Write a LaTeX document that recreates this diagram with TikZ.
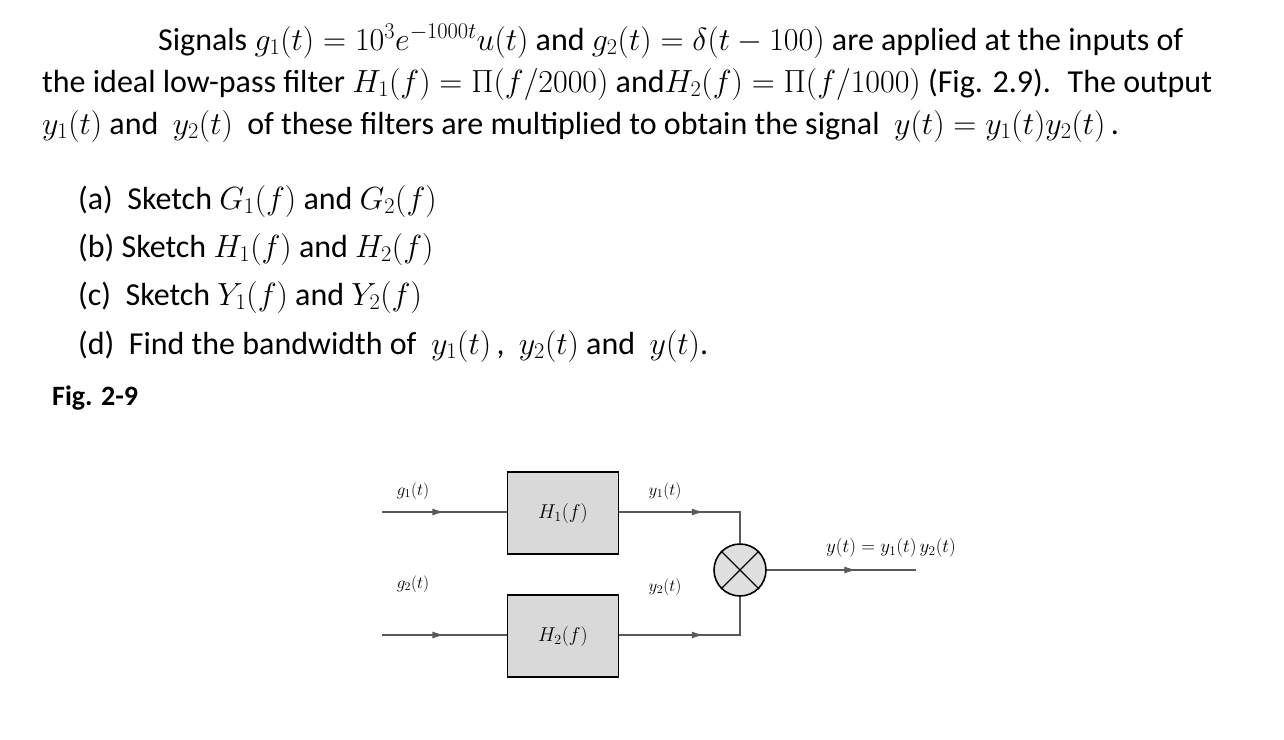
\RequirePackage{fix-cm}
\documentclass[tikz,border=0pt]{standalone}
\usepackage{fontspec}
\setmainfont{Carlito}
\usetikzlibrary{calc,arrows.meta}
\begin{document}
\begin{tikzpicture}[x=1pt,y=-1pt,
  txt/.style={anchor=base west,inner sep=0pt,font=\fontsize{32}{36}\selectfont},
  lab/.style={inner sep=0pt,font=\fontsize{17}{19}\selectfont},
  blk/.style={draw,line width=1.3pt,fill=gray!30,minimum width=111pt,minimum height=82pt,font=\fontsize{20}{22}\selectfont},
  wire/.style={draw=gray!70!black,line width=1.2pt},
  arr/.style={wire,-{Latex[length=12pt,width=7pt]}}]
\useasboundingbox (0,0) rectangle (1284,739);
\node[txt] (l1) at (158,50) {Signals $g_1(t)=10^3e^{-1000t}u(t)$ and $g_2(t)=\delta(t-100)$ are applied at the inputs of};
\node[txt] (l2) at (42,92) {the ideal low-pass filter $H_1(f)=\Pi(f/2000)$ and$H_2(f)=\Pi(f/1000)$ (Fig. 2.9). \ The output};
\node[txt] (l3) at (42,134) {$y_1(t)$ and \ $y_2(t)$ \ of these filters are multiplied to obtain the signal \ $y(t)=y_1(t)y_2(t)$\,.};
\node[txt] (a) at (78,209) {(a) \ Sketch $G_1(f)$ and $G_2(f)$};
\node[txt] (b) at (78,257) {(b) Sketch $H_1(f)$ and $H_2(f)$};
\node[txt] (c) at (78,305) {(c) \ Sketch $Y_1(f)$ and $Y_2(f)$};
\node[txt] (d) at (78,354) {(d) \ Find the bandwidth of \ $y_1(t)$\,, \ $y_2(t)$ and \ $y(t)$.};
\node[txt,font=\fontsize{28}{32}\selectfont] (fig) at (52,405) {\textbf{Fig. 2-9}};
\node[blk] (h1) at (563,513) {$H_1(f)$};
\node[blk] (h2) at (563,636) {$H_2(f)$};
\node[draw,circle,line width=1.6pt,fill=gray!25,minimum size=52pt,inner sep=0pt] (m) at (740,570) {};
\draw[line width=1.2pt] (m.north west)--(m.south east) (m.north east)--(m.south west);
\coordinate (i1) at (382,512);
\coordinate (i2) at (382,635);
\coordinate (o) at (916,570);
\coordinate (c1) at (m.north |- i1);
\coordinate (c2) at (m.south |- i2);
\draw[arr] (i1) -- ($(i1)!0.5!(i1 -| h1.west)$);
\draw[wire] (i1) -- (i1 -| h1.west);
\draw[arr] (i2) -- ($(i2)!0.5!(i2 -| h2.west)$);
\draw[wire] (i2) -- (i2 -| h2.west);
\draw[arr] (h1.east |- i1) -- ($(h1.east |- i1)!0.7!(c1)$);
\draw[wire] (h1.east |- i1) -- (c1) -- (m.north);
\draw[arr] (h2.east |- i2) -- ($(h2.east |- i2)!0.7!(c2)$);
\draw[wire] (h2.east |- i2) -- (c2) -- (m.south);
\draw[arr] (m.east) -- ($(m.east)!0.6!(o)$);
\draw[wire] (m.east) -- (o);
\node[lab] (lg1) at (413,491) {$g_1(t)$};
\node[lab] (lg2) at (413,584) {$g_2(t)$};
\node[lab] (ly1) at (665,491) {$y_1(t)$};
\node[lab] (ly2) at (665,587) {$y_2(t)$};
\node[lab,font=\fontsize{19}{21}\selectfont] (ly) at (891,548) {$y(t)=y_1(t)\,y_2(t)$};
\end{tikzpicture}
\end{document}
